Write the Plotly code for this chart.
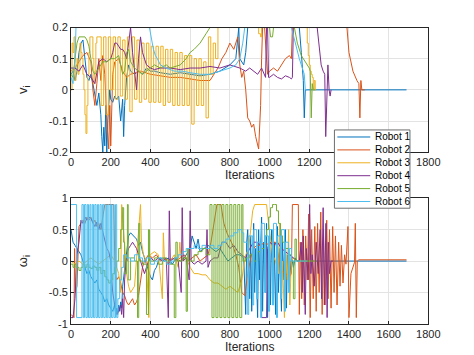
import plotly.graph_objects as go

names = ["Robot 1", "Robot 2", "Robot 3", "Robot 4", "Robot 5", "Robot 6"]
colors = ["#0072BD", "#D95319", "#EDB120", "#7E2F8E", "#77AC30", "#4DBEEE"]
x_ticks = [0, 200, 400, 600, 800, 1000, 1200, 1400, 1600, 1800]
x_tick_labels_top = ["0", "200", "400", "600", "800", "1000", "1200", "", "", "1800"]  # 1400/1600 hidden by the legend
x_tick_labels = ["0", "200", "400", "600", "800", "1000", "1200", "1400", "1600", "1800"]
v_ticks = [-0.2, -0.1, 0, 0.1, 0.2]
v_tick_labels = ["-0.2", "-0.1", "0", "0.1", "0.2"]
w_ticks = [-1, -0.5, 0, 0.5, 1]
w_tick_labels = ["-1", "-0.5", "0", "0.5", "1"]

# ---------------- linear velocity v_i ----------------
it_v1 = [0,10,20,30,40,50,60,70,80,90,100,110,120,130,140,150,155,160,165,170,175,180,185,190,195,200,210,220,230,240,250,260,265,270,275,280,290,300,320,340,360,380,400,420,450,500,550,600,650,700,750,800,830,845,850,870,880,890,900,1150,1160,1165,1170,1175,1180,1690]
v1 = [0.05,0.06,0.03,0.06,0.12,0.15,0.16,0.10,0.04,0.03,0.05,0.02,-0.02,-0.05,-0.01,-0.08,-0.15,-0.20,-0.12,-0.18,-0.05,-0.20,-0.10,-0.05,0.00,-0.03,-0.04,-0.02,-0.03,-0.02,-0.10,-0.03,-0.15,-0.05,0.02,0.04,0.08,0.06,0.05,0.06,0.05,0.07,0.06,0.06,0.055,0.05,0.055,0.05,0.045,0.05,0.06,0.08,0.10,0.20,0.10,0.08,0.12,0.20,0.20,0.20,0.12,0.06,0.03,-0.09,0.0,0.0]

it_v2 = [0,20,40,60,80,100,110,120,130,140,150,160,170,180,190,195,200,205,210,220,240,260,280,300,350,400,450,500,550,600,650,700,720,740,760,780,800,820,840,850,860,870,880,890,900,910,920,930,945,950,955,960,965,975,990,1000,1020,1040,1060,1080,1100,1110,1115,1390,1400,1420,1440,1450,1455,1460,1465,1470,1480]
v2 = [0.06,0.07,0.09,0.11,0.12,0.09,0.00,-0.05,0.02,0.10,0.03,0.11,0.05,-0.10,-0.19,-0.05,-0.18,0.00,0.05,0.09,0.10,0.06,0.04,0.05,0.06,0.05,0.045,0.04,0.04,0.035,0.03,0.03,0.05,0.07,0.10,0.12,0.15,0.13,0.17,0.08,0.04,0.06,0.00,-0.09,-0.10,-0.12,-0.11,-0.15,-0.19,-0.12,-0.05,0.10,0.20,0.20,0.05,0.06,0.07,0.06,0.08,0.10,0.11,0.10,0.20,0.20,0.12,0.06,0.03,0.02,-0.09,0.03,0.00,0.00,0.00]

# robot 3 is drawn as a step line (value held until the next iteration listed)
it_v3 = [0,5,10,15,20,25,30,35,40,45,50,55,60,65,70,75,80,85,90,95,100,110,115,120,125,130,
         140,152,164,176,188,200,212,224,236,248,260,272,284,296,308,320,332,344,356,368,380,392,404,416,428,440,452,464,476,488,500,512,524,536,548,560,572,584,596,608,620,632,644,656,668,680,692,704,716,728,740,
         945,955,960,1190,1195,1200,1205,1210,1215,1220,1225,1230,1235]
v3 = [0.0,0.15,0.12,0.17,0.03,0.08,0.10,0.05,0.06,0.15,0.12,0.10,0.05,0.0,-0.08,-0.14,-0.05,0.05,0.12,0.17,0.17,0.10,0.02,0.06,0.15,0.17,
      0.17,-0.05,0.17,-0.08,0.17,0.00,0.17,-0.03,0.17,-0.02,0.16,-0.03,0.17,-0.07,0.17,-0.03,0.16,-0.04,0.15,-0.03,0.15,-0.04,0.14,-0.04,0.14,-0.04,0.14,-0.05,0.13,-0.04,0.13,-0.05,0.12,-0.05,0.12,-0.05,0.11,-0.05,0.11,-0.11,0.10,-0.05,0.10,-0.05,0.09,-0.09,0.17,0.05,0.15,0.10,0.20,
      0.18,0.17,0.20,0.15,0.11,0.08,0.06,0.05,0.04,0.0,0.03,0.0,0.0]

it_v4 = [0,20,40,60,80,100,120,140,160,180,200,210,220,230,240,250,260,270,280,290,300,310,320,330,340,350,360,380,400,420,450,500,550,600,650,700,750,800,850,880,900,920,940,960,980,985,990,995,1000,1020,1040,1060,1080,1100,1110,1115,1120,1240,1250,1260,1270,1278,1283,1290,1294,1300,1305,1310]
v4 = [0.07,0.07,0.06,0.08,0.05,0.04,0.02,0.09,0.10,0.09,0.10,0.12,0.15,0.15,0.14,0.13,0.13,0.12,0.10,0.15,0.20,0.12,0.05,0.00,0.10,0.17,0.12,0.08,0.07,0.065,0.07,0.07,0.065,0.07,0.07,0.075,0.07,0.08,0.07,0.06,0.07,0.06,0.05,0.07,0.04,0.20,0.20,0.04,0.04,0.05,0.04,0.035,0.045,0.04,0.035,0.04,0.20,0.20,0.14,0.08,0.06,0.05,-0.15,0.00,0.08,0.00,-0.02,0.00]

it_v5 = [0,10,20,30,40,50,60,70,80,90,100,110,120,130,140,150,160,180,200,220,240,250,260,270,280,290,300,320,340,360,380,400,420,450,480,500,550,580,600,620,650,680,700,1000,1005,1015,1020,1125,1140,1160,1180,1200,1205,1210,1215,1220,1230]
v5 = [0.05,0.04,0.10,0.15,0.17,0.17,0.17,0.17,0.16,0.14,0.10,0.06,0.05,0.06,0.07,0.08,0.09,0.09,0.10,0.10,0.11,0.08,0.05,0.06,0.12,0.13,0.09,0.07,0.06,0.05,0.06,0.07,0.08,0.07,0.08,0.07,0.08,0.10,0.12,0.13,0.15,0.18,0.20,0.20,0.17,0.17,0.20,0.20,0.15,0.11,0.09,0.07,0.06,-0.09,0.02,0.00,0.00]

it_v6 = [0,10,20,25,395,405,415,425,435,450,480,520,560,600,650,700,750,800,830,850,865,875,1110,1125,1140,1150,1160,1170,1175,1180,1190]
v6 = [0.04,0.02,0.10,0.20,0.20,0.16,0.13,0.11,0.10,0.08,0.07,0.06,0.06,0.055,0.05,0.05,0.06,0.07,0.08,0.10,0.15,0.20,0.20,0.16,0.12,0.10,0.08,0.06,0.05,0.00,0.00]

# ---------------- angular velocity omega_i ----------------
it_w1 = [0,10,20,30,40,50,60,70,80,90,100,110,120,130,140,150,160,170,180,190,200,210,220,225,230,235,240,245,250,255,260,270,280,290,300,310,320,330,340,350,360,370,380,390,400,410,420,430,440,450,470,490,510,530,550,570,590,600,610,620,630,640,650,670,690,710,730,750,770,790,810,830,850,870,880,885,890,900,905,910,920,925,930,940,945,950,960,965,970,980,985,990,1000,1005,1010,1020,1025,1030,1040,1045,1050,1060,1065,1070,1080,1085,1090,1100,1110,1120,1130,1140,1150,1690]
w1 = [0.5,0.3,0.25,0.2,0.15,0.1,0.0,-0.1,-0.2,-0.15,-0.25,-0.3,-0.35,-0.3,-0.45,-0.5,-0.55,-0.65,-0.6,-0.7,-0.75,-0.8,-0.7,-0.85,-0.75,-0.85,-0.7,-0.8,-0.65,-0.75,-0.4,-0.1,0.2,0.4,0.45,0.42,0.38,0.35,0.25,0.3,0.15,0.05,-0.05,-0.15,-0.25,-0.3,-0.15,-0.1,0.0,0.05,0.0,0.05,-0.05,0.05,0.0,0.05,0.15,0.2,0.4,0.3,0.2,0.35,0.15,0.2,0.25,0.2,0.15,0.2,0.1,0.0,0.05,0.1,0.1,0.05,-0.85,0.3,0.5,-0.6,0.4,-0.8,0.6,-0.5,0.2,-0.9,0.5,-0.3,0.7,-0.8,0.3,-0.5,0.6,-0.9,0.4,-0.7,0.5,-0.6,0.3,-0.85,0.55,-0.5,0.2,-0.8,0.4,-0.3,0.5,-0.75,0.1,-0.4,0.1,-0.1,0.05,0.0,0.0,0.0]

it_w2 = [0,15,18,22,30,40,50,60,70,80,90,100,110,120,130,140,150,160,170,215,222,230,240,250,260,270,280,290,300,310,320,330,340,350,360,370,390,410,430,450,470,490,510,530,550,570,590,610,630,650,670,690,705,720,735,755,770,785,800,815,830,845,860,875,890,905,920,935,950,970,990,1010,1030,1045,1060,1080,1100,1110,
         1115,1145,1150,1155,1162,1168,1175,1182,1190,1197,1205,1212,1220,1228,1235,1242,1250,1258,1265,1272,1280,1288,1295,1302,1310,1318,1325,1332,1340,1348,1355,1362,1370,1378,1385,1395,1400,1410,1420,1428,1432,1437,1442,1450,1690]
w2 = [-0.85,-0.9,0.2,-0.5,-0.4,0.55,0.6,0.65,0.6,0.7,0.65,0.7,0.6,0.65,0.55,0.6,0.5,0.7,0.9,0.9,-0.2,-0.3,-0.25,-0.35,-0.5,-0.55,-0.65,-0.7,-0.65,-0.6,-0.7,-0.65,-0.55,-0.3,-0.1,0.0,0.1,0.05,0.1,0.0,0.05,-0.05,0.05,0.0,0.05,0.1,0.0,0.05,0.1,0.0,0.05,0.1,0.3,0.6,0.9,0.9,0.6,0.45,0.35,0.25,0.1,-0.1,-0.5,-0.55,-0.2,0.05,0.2,0.25,0.25,0.28,0.27,0.3,0.3,0.1,-0.15,-0.2,-0.25,-0.2,
      0.9,0.9,-0.85,0.3,-0.6,0.5,-0.7,0.4,-0.3,0.75,-0.9,0.5,-0.6,0.55,-0.8,0.6,-0.5,0.78,-0.85,0.5,-0.7,0.65,-0.6,0.5,-0.75,0.55,-0.5,0.4,-0.7,0.3,-0.4,0.25,-0.35,0.1,-0.05,0.55,-0.9,-0.2,-0.08,-0.02,0.6,-0.9,0.0,0.02,0.02]

it_w3 = [0,20,40,60,80,100,120,140,160,180,200,220,240,250,255,262,270,280,290,300,320,340,350,355,365,380,392,398,420,440,460,465,470,500,520,540,548,555,580,600,620,640,660,680,700,720,740,760,780,800,820,840,860,870,880,895,905,915,925,985,995,1005,1015,1030,1045,1052,1058,1065,1075,1080,1090,1096,1102,1110,1120,1140,1230]
w3 = [0.0,-0.05,0.0,-0.05,0.0,0.05,0.0,-0.05,0.0,0.05,0.1,0.0,-0.2,-0.5,0.9,0.6,0.2,-0.2,-0.4,-0.5,-0.4,0.4,0.9,0.3,0.1,0.0,-0.9,0.1,0.15,0.1,-0.6,0.45,0.05,0.0,0.1,-0.1,0.3,0.0,0.05,-0.1,-0.2,-0.2,-0.22,-0.22,-0.3,-0.35,-0.35,-0.4,-0.45,-0.4,-0.45,-0.5,-0.3,-0.1,0.1,0.2,0.5,0.8,0.9,0.9,0.6,0.3,0.1,0.0,-0.2,0.6,-0.5,0.0,-0.9,0.2,-0.3,0.5,-0.7,0.0,0.05,0.0,0.0]

it_w4 = [0,10,20,30,40,50,60,70,80,90,100,110,120,130,140,150,160,170,180,190,200,205,210,220,230,240,250,255,260,265,270,280,290,300,310,320,330,340,350,360,370,380,390,400,420,440,460,480,490,495,500,520,540,555,560,565,580,595,600,605,620,640,660,680,685,690,700,720,740,760,780,800,820,840,860,880,900,920,940,955,960,985,990,1000,1020,1040,1060,1080,1100,1120,1140,
         1150,1160,1165,1170,1180,1185,1195,1202,1208,1215,1225,1235,1245,1255,1262,1270,1276,1284,1290,1296,1302,1310,1320]
w4 = [-0.9,-0.9,-0.6,0.1,0.3,0.65,0.6,0.7,0.65,0.7,0.68,0.6,0.55,0.62,0.5,0.6,0.45,0.35,0.2,0.15,0.0,-0.3,-0.5,-0.7,-0.85,-0.8,-0.7,-0.85,-0.6,-0.9,-0.3,0.1,0.2,0.25,0.3,0.25,0.2,0.1,0.0,-0.1,-0.2,-0.1,0.0,0.05,0.0,0.05,0.0,0.05,-0.9,0.8,0.0,0.05,0.0,-0.5,0.85,0.0,0.05,-0.3,0.8,0.0,-0.05,0.0,-0.05,0.0,0.5,-0.1,0.0,0.05,0.05,0.3,0.3,0.2,0.25,0.15,0.1,0.05,0.2,0.3,0.3,0.25,-0.9,-0.9,0.2,0.3,0.25,0.3,0.2,0.15,0.1,0.05,0.0,
      0.0,0.3,-0.5,0.4,-0.85,0.2,-0.3,0.9,-0.2,0.1,-0.4,0.3,-0.2,0.5,-0.6,0.85,-0.7,0.6,-0.9,0.3,-0.2,0.0,0.0]

# robots 5 and 6: step lines (value held until the next iteration listed)
it_w5 = [0,10,20,30,40,50,60,70,80,90,100,110,120,130,140,150,160,170,180,190,200,210,220,230,240,250,258,265,270,280,284,288,300,320,335,341,346,360,380,390,395,420,440,460,480,500,520,528,535,560,580,586,592,620,640,660,680,
         700,710,720,730,740,750,760,770,780,790,800,810,820,830,840,850,860,866,880,900,920,940,960,975,985,995,1005,1015,1025,1035,1045,1055,1065,1080,1095,1110,1120,1128,1135,1230]
w5 = [-0.05,-0.1,-0.05,-0.1,-0.15,-0.1,-0.05,-0.1,-0.05,-0.1,-0.12,-0.08,-0.1,-0.15,-0.1,-0.2,-0.15,-0.25,-0.3,-0.35,-0.3,-0.2,-0.1,0.0,0.2,0.5,0.85,0.3,-0.2,0.0,0.9,-0.3,0.05,0.0,-0.9,0.6,0.0,-0.05,-0.85,0.5,0.0,0.05,-0.05,0.05,0.0,-0.05,-0.9,0.3,0.0,0.05,-0.8,0.2,0.0,0.1,0.15,0.2,0.1,
      0.9,-0.9,0.9,-0.9,0.9,-0.9,0.9,-0.9,0.9,-0.9,0.9,-0.9,0.9,-0.9,0.9,-0.9,0.9,0.0,0.05,0.1,0.0,0.15,0.2,0.4,0.5,0.7,0.85,0.9,0.9,0.8,0.6,0.4,0.3,0.2,0.1,0.0,-0.6,0.35,0.0,0.0]

it_w6 = [0,28,55,62,68,75,82,88,95,100,107,113,120,126,133,139,146,152,159,165,172,178,185,191,198,204,211,217,224,230,
         236,245,255,265,280,300,320,340,360,380,400,420,440,460,480,500,520,540,560,580,600,620,640,660,680,700,720,740,760,780,800,820,840,860,870,
         890,895,915,920,935,940,955,960,975,980,995,1000,1015,1020,1035,1040,1055,1060,1075,1080,1095,1100,1110,1190]
w6 = [0.9,-0.9,0.9,-0.9,0.9,-0.9,0.9,-0.9,0.9,-0.9,0.9,-0.9,0.9,-0.9,0.9,-0.9,0.9,-0.9,0.9,-0.9,0.9,-0.9,0.9,-0.9,0.9,-0.9,0.9,-0.9,0.9,-0.9,
      -0.6,-0.3,-0.1,0.1,0.05,0.0,0.1,0.05,0.0,0.05,-0.05,0.0,0.05,0.0,-0.05,0.0,0.05,0.1,0.15,0.2,0.2,0.25,0.2,0.25,0.2,0.25,0.2,0.25,0.3,0.35,0.4,0.45,0.5,0.45,0.3,
      -0.85,0.4,-0.7,0.5,-0.6,0.3,-0.9,0.6,-0.5,0.4,-0.8,0.5,-0.7,0.6,-0.9,0.4,-0.6,0.5,-0.8,0.3,-0.5,0.2,0.0,0.0]

v_series = [(it_v1, v1), (it_v2, v2), (it_v3, v3), (it_v4, v4), (it_v5, v5), (it_v6, v6)]
w_series = [(it_w1, w1), (it_w2, w2), (it_w3, w3), (it_w4, w4), (it_w5, w5), (it_w6, w6)]
v_shapes = ["linear", "linear", "hv", "linear", "linear", "linear"]
w_shapes = ["linear", "linear", "linear", "linear", "hv", "hv"]

for k, (a, b) in enumerate(v_series + w_series):
    assert len(a) == len(b), (k, len(a), len(b))

fig = go.Figure()
for i in range(6):
    xs, ys = v_series[i]
    fig.add_trace(go.Scatter(x=xs, y=ys, mode="lines", name=names[i], showlegend=False,
                             line=dict(color=colors[i], width=1, shape=v_shapes[i]),
                             xaxis="x", yaxis="y"))
for i in range(6):
    xs, ys = w_series[i]
    fig.add_trace(go.Scatter(x=xs, y=ys, mode="lines", name=names[i], showlegend=False,
                             line=dict(color=colors[i], width=1, shape=w_shapes[i]),
                             xaxis="x2", yaxis="y2"))

W, H = 474, 355
xd = [62 / W, 431 / W]
font = dict(family="Arial, Liberation Sans, sans-serif", size=11, color="#262626")
axcommon = dict(showline=True, linecolor="#262626", linewidth=1, mirror=True,
                ticks="inside", ticklen=3, tickcolor="#262626",
                showgrid=True, gridcolor="#E3E3E3", gridwidth=1, zeroline=False,
                tickfont=dict(size=11, color="#262626"))

# legend drawn as a framed box with sample lines and real text labels
leg_x0, leg_x1, leg_y0, leg_y1 = 334, 412, 120, 201   # box, in page pixels
row_top, row_step = 127.3, 13.35
shapes = [dict(type="rect", xref="paper", yref="paper",
               x0=leg_x0 / W, x1=leg_x1 / W, y0=1 - leg_y1 / H, y1=1 - leg_y0 / H,
               line=dict(color="#6E6E6E", width=1), fillcolor="white", layer="above")]
annotations = []
for i in range(6):
    yy = 1 - (row_top + i * row_step) / H
    shapes.append(dict(type="line", xref="paper", yref="paper",
                       x0=337 / W, x1=371 / W, y0=yy, y1=yy,
                       line=dict(color=colors[i], width=1), layer="above"))
    annotations.append(dict(xref="paper", yref="paper", x=374 / W, y=yy,
                            xanchor="left", yanchor="middle", showarrow=False,
                            text=names[i], font=dict(size=10, color="#000000")))

fig.update_layout(
    width=W, height=H,
    margin=dict(l=0, r=0, t=0, b=0),
    paper_bgcolor="white", plot_bgcolor="white",
    font=font,
    showlegend=False,
    shapes=shapes,
    annotations=annotations,
    xaxis=dict(domain=xd, range=[0, 1800], tickvals=x_ticks, ticktext=x_tick_labels_top, anchor="y",
               title=dict(text="Iterations", font=dict(size=12), standoff=2), **axcommon),
    yaxis=dict(domain=[1 - 143 / H, 1 - 14 / H], range=[-0.2, 0.2], tickvals=v_ticks,
               ticktext=v_tick_labels, anchor="x",
               title=dict(text="v<sub>i</sub>", font=dict(size=13), standoff=18), **axcommon),
    xaxis2=dict(domain=xd, range=[0, 1800], tickvals=x_ticks, ticktext=x_tick_labels, anchor="y2",
                title=dict(text="Iterations", font=dict(size=12), standoff=2), **axcommon),
    yaxis2=dict(domain=[1 - 320.7 / H, 1 - 190.7 / H], range=[-1, 1], tickvals=w_ticks,
                ticktext=w_tick_labels, anchor="x2",
                title=dict(text="ω<sub>i</sub>", font=dict(size=13), standoff=18), **axcommon),
)

fig.write_html("out.html")
